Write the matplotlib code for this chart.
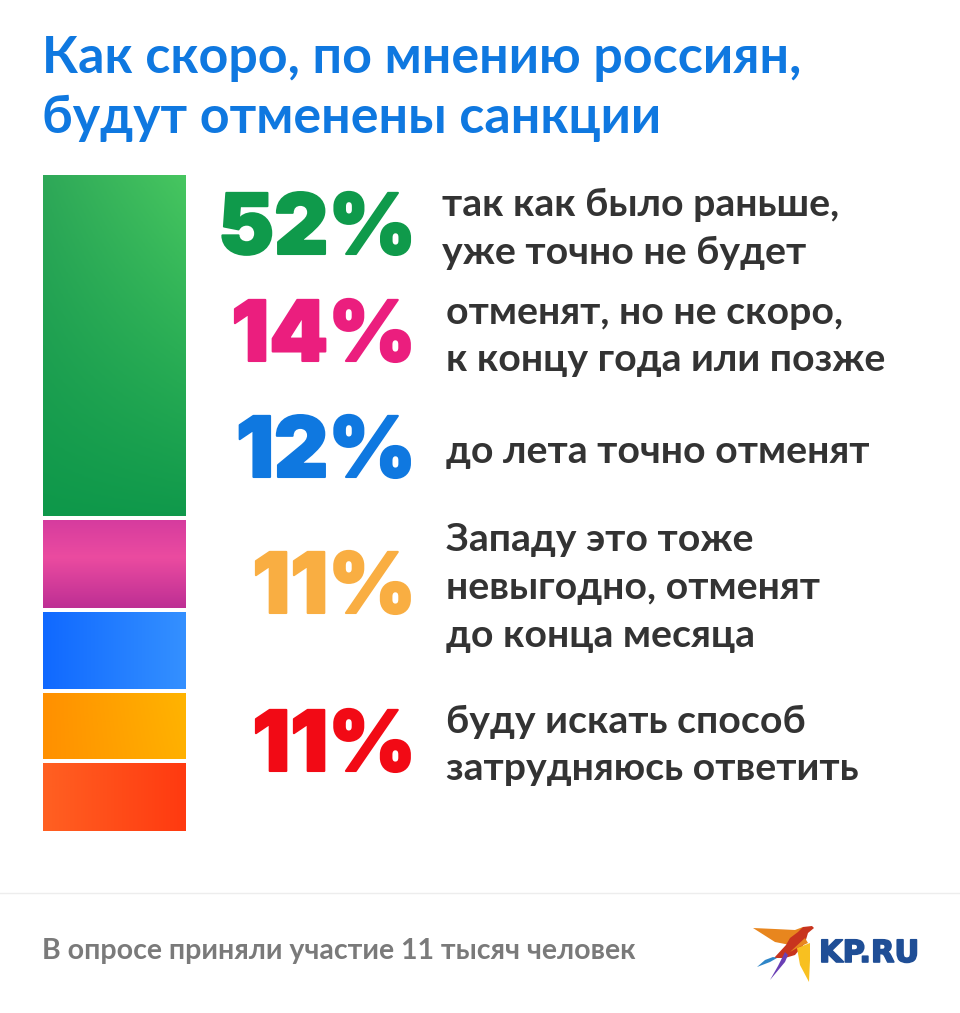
import numpy as np
import matplotlib
matplotlib.use("Agg")
import matplotlib.pyplot as plt
import matplotlib.patheffects as pe
from matplotlib.patches import Polygon

W, H = 960, 1013

title_lines = ["Как скоро, по мнению россиян,", "будут отменены санкции"]
pct_labels = ["52%", "14%", "12%", "11%", "11%"]
answers = [
    ["так как было раньше,", "уже точно не будет"],
    ["отменят, но не скоро,", "к концу года или позже"],
    ["до лета точно отменят"],
    ["Западу это тоже", "невыгодно, отменят", "до конца месяца"],
    ["буду искать способ", "затрудняюсь ответить"],
]
# segment sizes as drawn in the stacked bar (sum to 100)
bar_values = [52.0, 14.0, 12.3, 10.7, 11.0]
footer = "В опросе приняли участие 11 тысяч человек"

pct_colors = ["#0F9A4B", "#EB1E7E", "#0F78E0", "#F9AE42", "#F20A15"]
pct_baselines = [254, 361, 477, 613, 771]
text_x = [442, 446, 446, 446, 446]
text_baselines = [[216, 263.5], [323.5, 370.5], [463], [551, 599, 647], [733, 780]]

TEXT_FONT = ["Lato", "Open Sans", "DejaVu Sans"]
NUM_FONT = ["Inter", "DejaVu Sans"]


def px(size):
    return size * 72 / 100


def corners(tl, tr, bl, br):
    c = [matplotlib.colors.to_rgb(v) for v in (tl, tr, bl, br)]
    u, v = np.meshgrid(np.linspace(0, 1, 80), np.linspace(0, 1, 80))
    out = np.zeros((80, 80, 3))
    for i in range(3):
        out[..., i] = ((1 - u) * (1 - v) * c[0][i] + u * (1 - v) * c[1][i]
                       + (1 - u) * v * c[2][i] + u * v * c[3][i])
    return out


def magenta():
    top, mid, bot = [np.array(matplotlib.colors.to_rgb(c)) for c in ("#D63C9E", "#EB4BA0", "#BE2F94")]
    out = np.zeros((80, 80, 3))
    for j in range(80):
        t = j / 79
        if t < 0.42:
            out[j] = top + (mid - top) * t / 0.42
        else:
            out[j] = mid + (bot - mid) * (t - 0.42) / 0.58
    return out


gradients = [
    corners("#2EA858", "#47C660", "#0E984A", "#10994B"),
    magenta(),
    corners("#1069FF", "#3490FF", "#1069FF", "#3490FF"),
    corners("#FF9000", "#FFB400", "#FF9000", "#FFB000"),
    corners("#FF6022", "#FF3A10", "#FF6022", "#FF3A10"),
]

fig = plt.figure(figsize=(W / 100, H / 100), dpi=100, facecolor="white")

# stacked bar
ax = fig.add_axes([43 / W, 1 - 831 / H, 143 / W, 656 / H])
ax.set_xlim(0, 1)
ax.set_ylim(100, 0)
ax.axis("off")
GAP = 0.7
start = 0
for i, (val, grad) in enumerate(zip(bar_values, gradients)):
    top = start + (GAP if i > 0 else 0)
    ax.imshow(grad, extent=(0, 1, start + val, top), aspect="auto", zorder=2)
    start += val
ax.set_xlim(0, 1)
ax.set_ylim(100, 0)

# overlay in image pixels
ov = fig.add_axes([0, 0, 1, 1], facecolor="none")
ov.set_xlim(0, W)
ov.set_ylim(H, 0)
ov.axis("off")

ov.text(42, 72.5, title_lines[0], fontsize=px(52), color="#0F78E0", family=TEXT_FONT, weight="bold", va="baseline")
ov.text(42, 132.5, title_lines[1], fontsize=px(52), color="#0F78E0", family=TEXT_FONT, weight="bold", va="baseline")

for i in range(len(pct_labels)):
    t = ov.text(416, pct_baselines[i], pct_labels[i], fontsize=px(84), color=pct_colors[i],
                family=NUM_FONT, weight="black", ha="right", va="baseline")
    t.set_path_effects([pe.withStroke(linewidth=1.5, foreground=pct_colors[i])])
    for line, y in zip(answers[i], text_baselines[i]):
        ov.text(text_x[i], y, line, fontsize=px(39.3), color="#333333", family=TEXT_FONT,
                weight="bold", va="baseline")

ov.plot([0, W], [892.5, 892.5], color="#EDEDED", lw=1)
ov.text(42, 959, footer, fontsize=px(28.5), color="#7A7A7A", family=TEXT_FONT, weight="bold", va="baseline")

# logo
ov.add_patch(Polygon([(753, 928), (775, 929), (795, 930), (803, 927), (800, 935), (790, 945), (775, 942)], color="#E8861E", lw=0))
ov.add_patch(Polygon([(803, 927), (812, 926), (814, 928), (808, 933), (805, 943), (795, 955), (785, 958), (774, 958),
                      (786, 945), (790, 938), (798, 932)], color="#C8341E", lw=0))
ov.add_patch(Polygon([(790, 952), (805, 938), (808, 943), (797, 948)], color="#E8861E", lw=0))
ov.add_patch(Polygon([(757, 967), (765, 960), (773, 957), (777, 958), (770, 962)], color="#2E86C8", lw=0))
ov.add_patch(Polygon([(770, 980), (778, 966), (785, 952), (788, 955), (785, 962)], color="#6A3FB5", lw=0))
ov.add_patch(Polygon([(797, 948), (810, 943), (810, 960), (809, 982), (800, 965)], color="#F8C020", lw=0))
logo = ov.text(819, 962, "KP.RU", fontsize=px(30.5), color="#1F4E96", family=["DejaVu Sans"], weight="bold", va="baseline")
logo.set_path_effects([pe.withStroke(linewidth=1.2, foreground="#1F4E96")])

fig.savefig("out.png", dpi=100, facecolor="white")
